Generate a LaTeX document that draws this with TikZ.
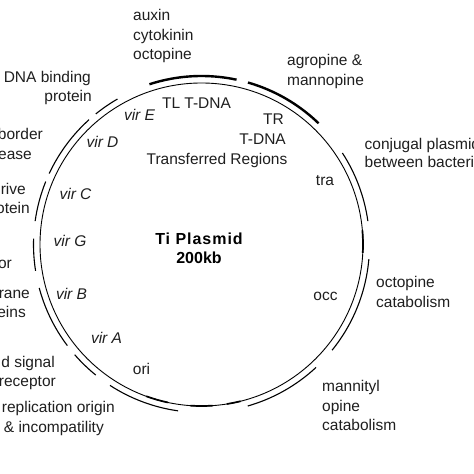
\documentclass[tikz,border=0pt]{standalone}
\usepackage{fontspec}
\setmainfont{Liberation Sans}
\begin{document}
\begin{tikzpicture}[x=1pt,y=1pt,
  lbl/.style={inner sep=0pt, font=\fontsize{15.5}{19}\selectfont, text=black!88},
  vir/.style={inner sep=0pt, font=\fontsize{15.5}{19}\selectfont\itshape, text=black!88},
  bld/.style={inner sep=0pt, font=\fontsize{16}{19}\selectfont\bfseries, text=black},
  gene/.style={line width=1.1pt},
  opine/.style={line width=2.4pt},
  plasmid/.style={line width=0.9pt},
  plasmidthick/.style={line width=1.7pt}]
\useasboundingbox (0,0) rectangle (474,474);
\clip (0,0) rectangle (474,474);
\fill[white] (0,0) rectangle (474,474);
\coordinate (C) at (201.5,229.5);
% plasmid circle
\draw[plasmid] (C) circle[radius=161.5];
\foreach \a/\b in {-3/5, -94/-86, -81/-76, 250/258}
  \draw[plasmidthick] (C) ++(\a:161.5) arc[start angle=\a, end angle=\b, radius=161.5];
% gene arcs
\foreach \a/\b in {120/129, 132/155, 158/172, 178/189, 195/217, 221/231, 237/262, 286/313, 321/355, 8/33}
  \draw[gene] (C) ++(\a:168) arc[start angle=\a, end angle=\b, radius=168];
\foreach \a/\b in {78/108, 46/74}
  \draw[opine] (C) ++(\a:168.5) arc[start angle=\a, end angle=\b, radius=168.5];
% outer labels, top
\node[lbl, anchor=mid west] (aux1) at (133,456) {auxin};
\node[lbl, anchor=mid west] (aux2) at (133,436.5) {cytokinin};
\node[lbl, anchor=mid west] (aux3) at (133,417) {octopine};
\node[lbl, anchor=mid west] (agr1) at (287,411) {agropine \&};
\node[lbl, anchor=mid west] (agr2) at (287,391) {mannopine};
% right side
\node[lbl, anchor=mid west] (con1) at (364.5,327) {conjugal plasmid};
\node[lbl, anchor=mid west] (con2) at (364.5,309) {between bacteria};
\node[lbl, anchor=mid west] (oct1) at (376,189) {octopine};
\node[lbl, anchor=mid west] (oct2) at (376,169) {catabolism};
\node[lbl, anchor=mid west] (man1) at (322,85) {mannityl};
\node[lbl, anchor=mid west] (man2) at (322,65) {opine};
\node[lbl, anchor=mid west] (man3) at (322,46) {catabolism};
% left side
\node[lbl, anchor=mid east] (dna1) at (91,394) {DNA binding};
\node[lbl, anchor=mid east] (dna2) at (92,375) {protein};
\node[lbl, anchor=mid east] (bor1) at (43,337) {border};
\node[lbl, anchor=mid east] (bor2) at (32,317) {ease};
\node[lbl, anchor=mid east] (drv1) at (26,282) {drive};
\node[lbl, anchor=mid east] (drv2) at (30,263) {otein};
\node[lbl, anchor=mid east] (reg1) at (12,208) {or};
\node[lbl, anchor=mid east] (mem1) at (30,178) {rane};
\node[lbl, anchor=mid east] (mem2) at (26,159) {eins};
\node[lbl, anchor=mid east] (sig1) at (55,109) {d signal};
\node[lbl, anchor=mid east] (sig2) at (56,90) {receptor};
\node[lbl, anchor=mid east] (rep1) at (115,64) {replication origin};
\node[lbl, anchor=mid east] (rep2) at (104,44) {\& incompatility};
% inner labels
\node[lbl, anchor=mid] (tl) at (196.5,368) {TL T-DNA};
\node[vir, anchor=mid] (vE) at (139.5,356) {vir E};
\node[vir, anchor=mid] (vD) at (102.5,329) {vir D};
\node[lbl, anchor=mid] (trf) at (217,312) {Transferred Regions};
\node[lbl, anchor=mid east] (tr1) at (284,352) {TR};
\node[lbl, anchor=mid east] (tr2) at (286,332) {T-DNA};
\node[lbl, anchor=mid] (tra) at (325,291) {tra};
\node[vir, anchor=mid] (vC) at (75.5,277) {vir C};
\node[vir, anchor=mid] (vG) at (70,230) {vir G};
\node[bld, anchor=mid] (ti1) at (199,232) {\addfontfeature{LetterSpace=6}Ti Plasmid};
\node[bld, anchor=mid] (ti2) at (199,213) {200kb};
\node[vir, anchor=mid] (vB) at (71.5,177) {vir B};
\node[vir, anchor=mid] (vA) at (106.5,133) {vir A};
\node[lbl, anchor=mid] (ori) at (141.5,102) {ori};
\node[lbl, anchor=mid] (occ) at (325.5,176) {occ};
\end{tikzpicture}
\end{document}
